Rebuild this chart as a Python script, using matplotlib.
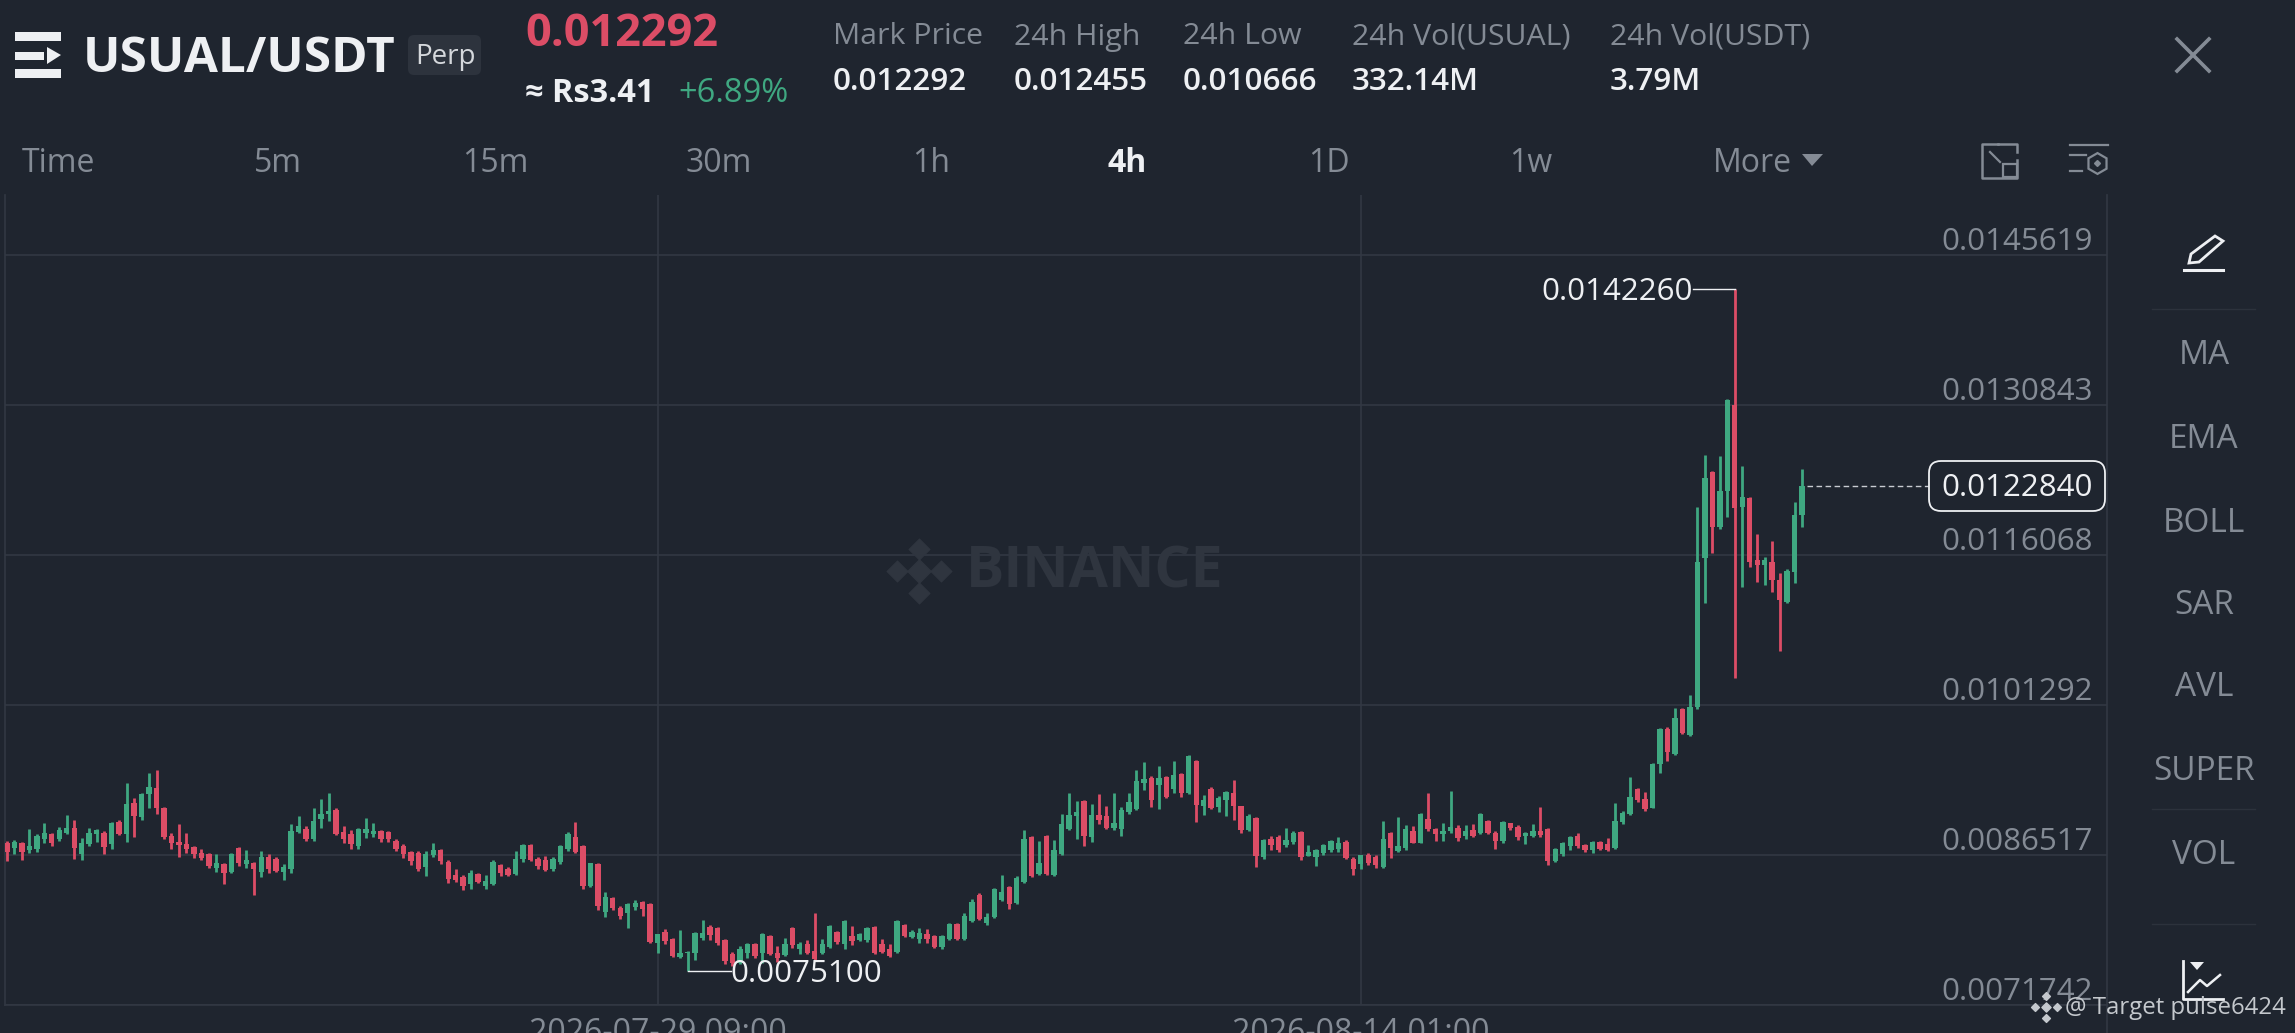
#! /usr/bin/env python
#
#   USUAL/USDT 4h candles, dark exchange app screenshot
#
import numpy as np
import matplotlib
matplotlib.use('Agg')
import matplotlib.pyplot as plt
from matplotlib.patches import Rectangle, FancyBboxPatch, Polygon
from matplotlib.transforms import ScaledTranslation

plt.rcParams['font.family'] = ['Open Sans', 'DejaVu Sans']

# prices in units of 1e-5
open_ = [877.3,872.4,877.0,869.8,870.8,880.6,885.5,880.6,887.2,891.4,
 865.8,876.3,885.5,887.2,875.7,898.0,885.5,916.7,902.6,924.9,
 930.9,911.5,883.9,878.3,875.7,873.1,867.1,866.5,852.7,856.0,
 848.8,871.7,856.6,857.3,848.8,863.2,861.6,848.8,851.1,888.2,
 890.5,880.6,900.3,905.9,909.5,887.9,885.6,874.1,887.2,885.6,
 889.2,888.2,879.0,874.1,868.5,867.5,853.7,865.2,870.1,858.3,
 845.2,843.9,836.3,846.5,834.7,837.0,855.0,851.7,846.2,860.9,
 874.7,861.6,860.3,851.1,858.3,870.8,882.9,874.1,834.7,856.7,
 809.0,823.2,813.3,808.4,814.3,818.9,816.6,778.2,789.3,782.1,
 765.0,768.3,769.0,783.8,794.6,793.0,781.1,767.3,759.1,768.3,
 777.9,768.3,785.4,769.0,766.7,793.3,772.9,777.2,770.6,769.0,
 774.6,789.3,777.2,785.4,781.1,781.5,794.3,777.9,772.3,769.6,
 796.2,784.7,782.1,787.0,785.1,774.9,782.8,797.6,782.8,800.2,
 826.1,798.5,803.8,820.6,833.7,817.9,838.3,883.3,846.5,884.3,
 845.8,866.5,891.2,903.3,918.1,883.0,905.0,904.0,891.8,890.8,
 907.3,910.5,936.2,941.1,934.5,942.1,930.2,945.0,926.3,958.2,
 913.8,930.2,912.5,919.7,926.3,913.2,890.2,901.7,862.9,881.0,
 883.0,874.7,878.4,887.6,864.6,863.3,867.5,870.1,870.7,878.3,
 861.5,856.0,865.5,863.5,853.3,886.5,869.1,872.4,888.8,877.3,
 900.3,890.4,885.5,888.8,892.1,883.9,889.8,887.2,898.3,887.2,
 878.9,896.4,893.1,883.9,883.9,888.8,890.4,859.2,865.8,874.0,
 883.9,875.0,870.1,878.0,875.7,872.5,897.7,906.0,929.9,920.1,
 911.9,954.6,989.7,965.1,1009.4,983.3,1011.2,1157.4,1242.8,1187.9,
 1224.0,1308.4,1207.6,1216.5,1155.7,1150.8,1154.1,1136.0,1114.7,1144.2,
 1200.1]
high = [879.3,880.0,878.3,891.1,885.9,897.0,887.2,893.1,904.3,899.3,
 881.6,891.8,891.1,889.1,898.0,899.3,936.1,921.0,925.9,946.0,
 949.2,912.5,886.8,895.4,887.2,873.7,870.8,867.5,865.8,857.0,
 867.1,872.7,870.1,858.3,868.8,865.8,862.9,856.0,895.4,903.6,
 893.7,911.8,920.0,925.9,911.2,893.8,889.8,892.1,901.3,897.1,
 889.8,888.9,881.3,876.0,869.5,869.5,869.1,877.4,870.8,860.3,
 851.7,845.2,850.1,847.5,845.2,859.9,856.7,853.4,869.1,876.0,
 876.0,863.6,864.2,863.2,875.1,888.2,897.4,875.1,857.7,857.0,
 829.1,824.2,815.0,817.9,820.9,819.9,817.6,787.7,792.0,783.8,
 791.6,770.6,789.0,800.8,795.9,793.9,782.1,769.6,775.6,778.2,
 778.8,788.7,786.1,775.2,783.8,794.3,779.8,781.5,807.7,782.1,
 796.2,790.3,801.5,795.6,788.0,794.6,795.3,782.5,777.2,801.5,
 797.2,791.3,793.6,792.6,786.1,786.1,798.2,798.5,807.7,822.2,
 827.4,807.7,832.7,845.5,835.0,844.9,890.2,884.3,879.3,885.3,
 879.7,905.9,926.6,918.4,919.1,915.5,925.0,913.8,926.0,912.8,
 926.3,948.6,956.5,943.4,952.6,943.4,957.8,946.0,963.4,959.1,
 924.0,931.9,923.0,928.3,939.4,913.8,905.6,902.7,881.3,884.3,
 884.6,891.5,888.5,888.5,875.1,871.5,876.3,879.9,882.6,879.6,
 863.2,865.5,866.8,864.8,898.7,887.8,902.9,894.4,893.7,906.9,
 925.9,891.4,896.4,928.2,894.4,894.7,896.0,906.9,899.3,888.8,
 898.7,897.0,894.4,887.5,896.0,912.8,891.4,872.4,878.0,883.9,
 886.5,875.7,878.9,878.9,881.9,916.8,908.6,942.4,931.2,927.6,
 955.9,990.7,991.0,1010.4,1010.4,1022.7,1208.3,1259.2,1243.8,1258.2,
 1314.4,1422.6,1248.7,1217.5,1181.0,1159.0,1174.5,1142.6,1146.5,1213.2,
 1245.1]
low = [858.9,865.8,860.2,866.8,868.5,877.3,873.7,879.3,886.2,861.6,
 860.6,874.0,878.3,866.5,870.8,884.5,878.3,883.2,899.3,911.5,
 905.6,880.6,870.8,863.5,867.5,862.5,859.9,852.4,848.8,836.3,
 847.4,854.3,852.7,825.4,843.5,847.1,848.4,840.5,847.4,886.5,
 879.0,879.3,892.1,898.7,884.9,876.7,871.1,871.4,882.0,882.9,
 878.0,878.0,869.5,861.9,855.0,849.8,844.5,863.6,856.3,837.6,
 838.6,830.4,832.0,837.6,831.4,835.6,844.5,844.5,845.5,858.3,
 859.0,851.7,849.8,849.8,856.7,868.8,867.5,832.0,833.7,811.0,
 803.8,811.0,801.8,793.0,811.0,805.1,778.8,768.3,777.2,764.7,
 763.7,751.0,761.4,781.5,781.1,776.5,758.2,755.9,757.5,763.4,
 764.1,758.5,766.4,759.8,765.7,773.9,767.3,767.7,760.4,768.0,
 773.3,777.5,772.9,776.9,780.2,779.5,767.7,768.3,764.4,768.3,
 784.1,783.4,778.8,778.8,773.6,772.3,781.1,781.5,781.8,799.2,
 800.8,795.9,802.8,819.6,812.0,817.0,837.3,843.9,845.5,845.8,
 844.9,865.2,890.2,881.0,873.8,877.7,895.4,891.2,889.9,884.3,
 905.9,909.6,928.9,912.2,910.5,921.4,926.3,922.0,925.7,898.1,
 905.0,910.5,907.6,904.0,900.0,886.9,889.2,853.4,861.6,870.5,
 868.2,872.8,876.4,860.6,863.9,854.1,864.8,867.8,868.4,860.9,
 845.1,851.7,855.0,852.0,852.3,862.5,868.1,870.1,876.6,876.6,
 888.5,879.3,878.9,887.2,878.6,880.6,883.2,886.2,885.5,870.7,
 877.3,889.5,879.6,876.3,882.6,883.2,855.3,858.3,864.2,869.8,
 872.4,868.4,866.8,870.1,869.4,871.5,896.1,905.0,917.8,908.9,
 911.2,946.4,958.2,963.8,984.4,982.3,1008.9,1113.7,1162.3,1186.0,
 1197.8,1039.2,1129.5,1148.5,1134.4,1131.1,1124.5,1066.4,1113.0,1133.4,
 1187.9]
close = [868.5,878.3,868.5,874.0,883.9,886.5,877.3,889.5,892.1,872.4,
 877.3,887.2,889.8,873.1,897.0,885.5,915.1,903.6,924.9,932.2,
 911.8,882.9,877.3,874.7,870.8,865.8,862.5,854.3,857.6,847.8,
 865.8,857.6,859.9,851.1,863.2,851.1,849.4,853.7,888.8,893.7,
 880.6,898.7,905.2,908.5,886.2,880.6,875.7,891.1,890.5,888.9,
 880.6,880.6,871.4,865.9,859.3,851.7,865.9,869.8,859.3,841.2,
 840.6,834.7,847.8,838.9,839.6,858.3,847.8,845.2,861.6,874.7,
 860.3,854.4,850.4,860.9,874.1,885.6,868.5,834.7,857.0,815.0,
 824.2,813.3,805.1,817.3,818.2,811.7,779.5,787.0,780.5,765.7,
 769.0,769.6,788.0,788.7,786.1,778.8,760.8,758.5,772.3,777.5,
 765.7,787.7,767.3,764.1,777.2,776.2,777.2,769.0,762.4,777.2,
 795.3,779.5,800.2,780.5,787.0,793.6,769.0,769.6,765.7,800.2,
 785.4,789.3,788.0,782.8,774.9,785.1,796.9,782.8,805.1,818.9,
 801.8,804.5,831.4,828.4,817.3,842.6,881.0,844.9,857.3,846.8,
 870.5,896.1,905.0,907.3,883.6,905.0,900.0,891.8,896.8,909.2,
 917.4,937.8,940.1,919.7,941.1,922.4,944.4,926.3,962.4,914.8,
 919.7,911.5,921.4,927.0,913.2,890.2,904.0,863.9,880.3,875.4,
 870.5,880.3,886.9,863.3,867.9,869.8,874.7,878.6,877.3,862.2,
 851.0,864.8,857.6,855.0,881.2,872.4,874.0,890.4,877.3,905.2,
 890.4,885.5,888.8,893.1,882.2,888.8,883.9,905.2,887.2,878.9,
 897.7,892.1,883.2,886.5,888.8,884.5,859.2,870.7,876.6,882.9,
 874.0,870.1,878.0,871.4,870.1,898.7,906.3,922.7,919.4,910.2,
 954.9,989.7,966.7,1000.5,985.8,1011.2,1154.1,1236.2,1188.6,1224.0,
 1313.4,1206.6,1217.5,1154.1,1150.8,1155.7,1136.0,1116.3,1145.2,1200.1,
 1228.4]

y_ticks = [0.0145619, 0.0130843, 0.0116068, 0.0101292, 0.0086517, 0.0071742]
x_ticks = [87, 181]
x_labels = ['2026-07-29 09:00', '2026-08-14 01:00']
last_price = 0.0122840
max_price = 0.0142260
min_price = 0.0075100

stat_names = ['Mark Price', '24h High', '24h Low', '24h Vol(USUAL)', '24h Vol(USDT)']
stat_values = ['0.012292', '0.012455', '0.010666', '332.14M', '3.79M']
tabs = ['5m', '15m', '30m', '1h', '4h', '1D', '1w']
tools = ['MA', 'EMA', 'BOLL', 'SAR', 'AVL', 'SUPER', 'VOL']

BG = '#1f252f'
GRID = '#323843'
GRAY = '#848b95'
WHITE = '#eef0f3'
RED = '#dc4d66'
GREEN = '#3fa881'
W, H = 2295, 1033

fig = plt.figure(figsize=(W/100, H/100), dpi=100, facecolor=BG)

# chart axes: px 4.5..2107 wide, px 195..1005 tall
ax = fig.add_axes([4.5/W, 1-1005/H, (2107-4.5)/W, (1005-195)/H], facecolor=BG)
step = 7.48
ax.set_xlim((4.5-6.9)/step, (2107-6.9)/step)
ax.set_ylim(0.0071742, 0.0145619 + 60/150*0.0014776)

o = np.array(open_)*1e-5
h = np.array(high)*1e-5
l = np.array(low)*1e-5
c = np.array(close)*1e-5
x = np.arange(len(o))
col = np.where(c >= o, GREEN, RED)

ax.vlines(x, l, h, colors=col, linewidth=2.0, zorder=3)
ax.bar(x, np.abs(c-o), bottom=np.minimum(o, c), width=0.72, color=col, zorder=3)

ax.set_yticks(y_ticks)
ax.set_yticklabels(['%.7f' % v for v in y_ticks])
ax.set_xticks(x_ticks)
ax.set_xticklabels(x_labels)
ax.yaxis.tick_right()
ax.tick_params(axis='y', length=0, pad=-10, labelsize=22.5, labelcolor=GRAY)
ax.tick_params(axis='x', length=0, pad=9, labelsize=23, labelcolor=GRAY)
down2 = ScaledTranslation(0, -2/100, fig.dpi_scale_trans)
for t in ax.get_yticklabels():
    t.set_ha('right')
    t.set_va('bottom')
    t.set_transform(t.get_transform() + down2)
ax.grid(True, color=GRID, linewidth=1.2, zorder=1)
ax.spines['top'].set_visible(False)
for s in ['left', 'right', 'bottom']:
    ax.spines[s].set_color(GRID)
    ax.spines[s].set_linewidth(1.2)

# high / low callouts and last price line
ax.plot([231, 231-42/step], [max_price, max_price], color=WHITE, lw=1, zorder=5)
ax.plot([91, 91+43/step], [min_price, min_price], color=WHITE, lw=1, zorder=5)
ax.annotate('%.7f' % max_price, xy=(231, max_price), xytext=(-42, -3), textcoords='offset pixels',
            ha='right', va='center', color=WHITE, fontsize=22.5, zorder=5)
ax.annotate('%.7f' % min_price, xy=(91, min_price), xytext=(43, -3), textcoords='offset pixels',
            ha='left', va='center', color=WHITE, fontsize=22.5, zorder=5)
ax.plot([240.6, 257], [last_price, last_price], color='#c8ccd2', lw=1, ls=(0, (4, 2.5)), zorder=4)

# overlay in pixel coordinates for the app chrome
ui = fig.add_axes([0, 0, 1, 1], facecolor='none')
ui.set_xlim(0, W)
ui.set_ylim(H, 0)
ui.axis('off')

def label(px, py, s, size=22.5, color=GRAY, ha='center', weight='normal', **kw):
    ui.text(px, py+3, s, fontsize=size, color=color, ha=ha, va='center', fontweight=weight, **kw)

# menu icon
ui.add_patch(Rectangle((15, 32), 46, 9, color=WHITE, lw=0))
ui.add_patch(Rectangle((15, 52), 29, 8, color=WHITE, lw=0))
ui.add_patch(Polygon([[47, 47], [61, 55], [47, 64]], color=WHITE, lw=0))
ui.add_patch(Rectangle((15, 69), 46, 9, color=WHITE, lw=0))

label(83, 56, 'USUAL/USDT', size=35.6, color=WHITE, ha='left', weight='bold')
ui.add_patch(FancyBboxPatch((412, 39), 65, 32, boxstyle='round,pad=4,rounding_size=6', fc='#2d333d', ec='none'))
label(445, 54, 'Perp', size=20, color='#d5d8dc')
label(525, 32, '0.012292', size=32.5, color=RED, ha='left', weight='bold')
label(525, 90, '≈ Rs3.41', size=23.4, color=WHITE, ha='left', weight='bold')
label(678, 90, '+6.89%', size=23.5, color=GREEN, ha='left')

stat_x = [833, 1014, 1183, 1352, 1610]
for sx, name, val in zip(stat_x, stat_names, stat_values):
    label(sx, 34, name, size=21.8, ha='left')
    label(sx, 79, val, size=22.6, color=WHITE, ha='left', weight='semibold')

ui.plot([2177, 2209], [39, 71], color=GRAY, lw=2.6)
ui.plot([2177, 2209], [71, 39], color=GRAY, lw=2.6)

# interval tabs
label(22, 161, 'Time', size=23, ha='left')
tab_x = [278, 495, 719, 931, 1127, 1329, 1531]
for tx, s in zip(tab_x, tabs):
    if s == '4h':
        label(tx, 161, s, size=23, color=WHITE, weight='bold')
    else:
        label(tx, 161, s, size=23)
label(1752, 161, 'More', size=23)
ui.add_patch(Polygon([[1802, 154], [1823, 154], [1812, 166]], color=GRAY, lw=0))

# top right icons
ui.plot([1998, 1982, 1982, 2017, 2017], [144, 144, 178, 178, 160], color=GRAY, lw=1.8)
ui.plot([1998, 2017, 2017], [144, 144, 152], color=GRAY, lw=1.8)
ui.add_patch(Rectangle((2003, 164), 14, 13, fc='none', ec=GRAY, lw=1.6))
ui.plot([1990, 2000], [152, 162], color=GRAY, lw=1.6)
ui.plot([2070, 2108], [145, 145], color=GRAY, lw=1.6)
ui.plot([2070, 2086], [155, 155], color=GRAY, lw=1.6)
ui.plot([2070, 2082], [171, 171], color=GRAY, lw=1.6)
ui.plot([2097], [163], marker='h', ms=15, mfc='none', mec=GRAY, mew=1.6)
ui.plot([2097], [163], marker='D', ms=3, color=GRAY)

# right tool panel
ui.plot([2107, 2107], [1005, 1033], color=GRID, lw=1.2)
for sy in [309, 809, 924]:
    ui.plot([2152, 2255], [sy, sy], color='#2c323c', lw=1)
tool_y = [353, 436, 520, 602, 685, 768, 852]
for ty, s in zip(tool_y, tools):
    label(2204, ty, s, size=24)
ui.add_patch(Polygon([[2191, 254], [2215, 236], [2223, 241], [2199, 262], [2189, 263]], fc='none', ec=WHITE, lw=2))
ui.plot([2184, 2223], [270, 270], color=WHITE, lw=2.2)
ui.plot([2183, 2183, 2223], [961, 999, 999], color=WHITE, lw=2)
ui.plot([2188, 2200, 2207, 2220], [992, 980, 986, 975], color=WHITE, lw=1.8)
ui.add_patch(Polygon([[2190, 962], [2204, 962], [2197, 970]], color=WHITE, lw=0))

# last price box
ui.add_patch(FancyBboxPatch((1936, 468), 162, 36, boxstyle='round,pad=7,rounding_size=12',
                            fc=BG, ec=WHITE, lw=1.3, zorder=6))
label(2017, 485, '%.7f' % last_price, color=WHITE, zorder=7)

# watermarks
label(1095, 569, 'BINANCE', size=41, color='#2f353f', weight='bold', zorder=0)
ui.scatter([919], [571], marker='D', s=140, color='#2f353f', zorder=0)
ui.scatter([897, 941, 919, 919], [571, 571, 549, 593], marker='D', s=110, color='#2f353f', zorder=0)
label(2065, 1005, '@ Target pulse6424', size=17.3, color='#c4c8cd', ha='left', zorder=8)
ui.scatter([2046], [1007], marker='D', s=22, color='#c4c8cd', zorder=8)
ui.scatter([2035, 2057, 2046, 2046], [1007, 1007, 996, 1018], marker='D', s=16, color='#c4c8cd', zorder=8)

fig.savefig('out.png', dpi=100, facecolor=BG)
